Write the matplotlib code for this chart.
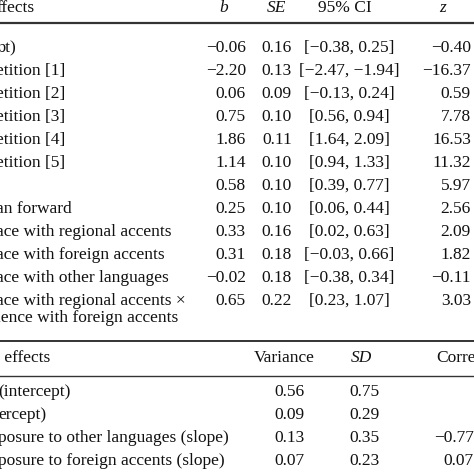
import matplotlib
matplotlib.use("Agg")
import matplotlib.pyplot as plt

fixed_labels = ["ɒt)", "etition [1]", "etition [2]", "etition [3]", "etition [4]", "etition [5]", "",
                "an forward", "ace with regional accents", "ace with foreign accents",
                "ace with other languages", "ace with regional accents ×"]
fixed_b = ["−0.06", "−2.20", "0.06", "0.75", "1.86", "1.14", "0.58", "0.25", "0.33", "0.31", "−0.02", "0.65"]
fixed_se = ["0.16", "0.13", "0.09", "0.10", "0.11", "0.10", "0.10", "0.10", "0.16", "0.18", "0.18", "0.22"]
fixed_ci = ["[−0.38, 0.25]", "[−2.47, −1.94]", "[−0.13, 0.24]", "[0.56, 0.94]", "[1.64, 2.09]", "[0.94, 1.33]",
            "[0.39, 0.77]", "[0.06, 0.44]", "[0.02, 0.63]", "[−0.03, 0.66]", "[−0.38, 0.34]", "[0.23, 1.07]"]
fixed_z = ["−0.40", "−16.37", "0.59", "7.78", "16.53", "11.32", "5.97", "2.56", "2.09", "1.82", "−0.11", "3.03"]

rand_labels = ["(intercept)", "ercept)", "posure to other languages (slope)", "posure to foreign accents (slope)"]
rand_var = ["0.56", "0.09", "0.13", "0.07"]
rand_sd = ["0.75", "0.29", "0.35", "0.23"]
rand_corr = ["", "", "−0.77", "0.07"]

fig = plt.figure(figsize=(4.74, 4.74), dpi=100)
ax = fig.add_axes([0, 0, 1, 1])
ax.set_xlim(0, 474); ax.set_ylim(474, 0); ax.axis("off")
fs = 12.5
kw = dict(fontsize=fs, family="Liberation Serif", va="center", color="#111111")

ax.text(-4, 8, "ffects", ha="left", **kw)
ax.text(224, 8, "b", ha="center", style="italic", **kw)
ax.text(276, 8, "SE", ha="center", style="italic", **kw)
ax.text(345, 8, "95% CI", ha="center", **kw)
ax.text(443, 8, "z", ha="center", style="italic", **kw)
ax.plot([0, 474], [23, 23], color="#333", lw=1.6)

for i in range(len(fixed_b)):
    y = 48 + i * 23
    ax.text(-4, y, fixed_labels[i], ha="left", **kw)
    ax.text(246, y, fixed_b[i], ha="right", **kw)
    ax.text(292, y, fixed_se[i], ha="right", **kw)
    ax.text(349, y, fixed_ci[i], ha="center", **kw)
    ax.text(471, y, fixed_z[i], ha="right", **kw)
ax.text(-4, 318, "ience with foreign accents", ha="left", **kw)

ax.plot([0, 474], [341, 341], color="#333", lw=1.4)
ax.text(0, 358, " effects", ha="left", **kw)
ax.text(284, 358, "Variance", ha="center", **kw)
ax.text(361, 358, "SD", ha="center", style="italic", **kw)
ax.text(436, 358, "Corre", ha="left", **kw)
ax.plot([0, 474], [376, 376], color="#333", lw=1.0)

for i in range(len(rand_var)):
    y = 392 + i * 23
    ax.text(-2, y, rand_labels[i], ha="left", **kw)
    ax.text(305, y, rand_var[i], ha="right", **kw)
    ax.text(380, y, rand_sd[i], ha="right", **kw)
    ax.text(474, y, rand_corr[i], ha="right", **kw)

fig.savefig("out.png", dpi=100, facecolor="white")
